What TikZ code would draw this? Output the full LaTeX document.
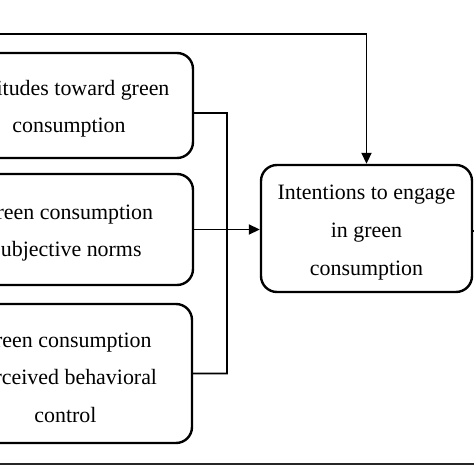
\documentclass[tikz,border=0pt]{standalone}
\usepackage{fontspec}
\setmainfont{Liberation Serif}
\usetikzlibrary{arrows.meta}
\begin{document}
\begin{tikzpicture}[x=1bp,y=-1bp,
  box/.style={draw=black,line width=2.4bp,rounded corners=16bp,inner sep=0pt},
  txt/.style={inner sep=0pt,align=center,font=\fontsize{22}{37.5}\selectfont},
  conn/.style={draw=black,line width=1.9bp},
  arr/.style={conn,-{Triangle[length=11bp,width=10bp]}},
  rule/.style={draw=black!85,line width=2bp}]
\useasboundingbox (0,0) rectangle (474,474);
\clip (0,0) rectangle (474,474);
\fill[white] (0,0) rectangle (474,474);
\node[box,minimum width=254bp,minimum height=105bp] (b1) at (66,105.5) {};
\node[txt] (b1t) at ([xshift=3bp,yshift=-3.5bp]b1.center) {Attitudes toward green\\consumption};
\node[box,minimum width=254bp,minimum height=111bp] (b2) at (66,229.5) {};
\node[txt] (b2t) at ([xshift=1bp,yshift=-3.5bp]b2.center) {Green consumption\\subjective norms};
\node[box,minimum width=253bp,minimum height=139bp] (b3) at (65.5,373.5) {};
\node[txt] (b3t) at ([yshift=-4bp]b3.center) {Green consumption\\perceived behavioral\\control};
\node[box,minimum width=211bp,minimum height=127bp] (i) at (366.5,228.5) {};
\node[txt,font=\fontsize{22}{38.5}\selectfont] (it) at ([yshift=-4bp]i.center) {Intentions to engage\\in green\\consumption};
\coordinate (c1) at ([yshift=-7.5bp]b1.east);
\coordinate (jt) at (227,113);
\coordinate (jb) at (227,373.5);
\draw[conn] (c1) -- (jt) -- (jb) -- (b3.east);
\draw[arr] (b2.east) -- (i.west |- b2.east);
\coordinate (tl) at (-10,34);
\draw[arr] (tl) -| (i.north);
\coordinate (rs) at (490,231);
\draw[conn] (i.east |- rs) -- (rs);
\coordinate (bl) at (-10,463.5);
\coordinate (br) at (490,463.5);
\draw[rule] (bl) -- (br);
\end{tikzpicture}
\end{document}
